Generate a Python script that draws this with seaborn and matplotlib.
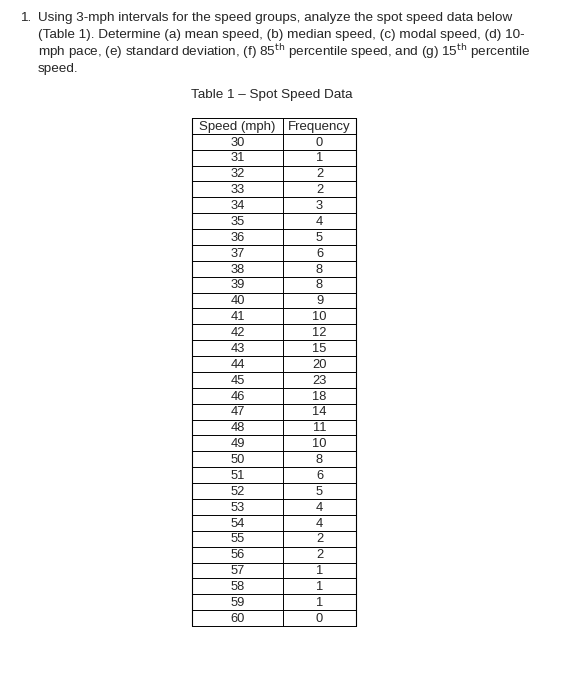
import matplotlib
matplotlib.use("Agg")
import matplotlib.pyplot as plt
import seaborn as sns

sns.set_theme(style="white")
plt.rcParams['font.family'] = ['Liberation Sans', 'DejaVu Sans']

speeds = list(range(30, 61))
freqs = [0, 1, 2, 2, 3, 4, 5, 6, 8, 8, 9, 10, 12, 15, 20, 23, 18, 14, 11, 10,
         8, 6, 5, 4, 4, 2, 2, 1, 1, 1, 0]
headers = ["Speed (mph)", "Frequency"]

fig = plt.figure(figsize=(5.68, 7.0), dpi=100)
W, H = 568, 700
fs = 9.7
lines = [
    "Using 3-mph intervals for the speed groups, analyze the spot speed data below",
    "(Table 1). Determine (a) mean speed, (b) median speed, (c) modal speed, (d) 10-",
    "mph pace, (e) standard deviation, (f) 85$^{\\mathrm{th}}$ percentile speed, and (g) 15$^{\\mathrm{th}}$ percentile",
    "speed.",
]
fig.text(20 / W, 1 - 18 / H, "1.", fontsize=fs, va="center", ha="left")
for i, l in enumerate(lines):
    fig.text(38 / W, 1 - (18 + 17 * i) / H, l, fontsize=fs, va="center", ha="left")
fig.text(272 / W, 1 - 95 / H, "Table 1 \u2013 Spot Speed Data", fontsize=fs, va="center", ha="center")

top, bot, left, right, div = 118, 626, 192, 356, 283
ax = fig.add_axes([left / W, 1 - bot / H, (right - left) / W, (bot - top) / H])
n = len(speeds) + 1
ax.set_xlim(0, 1)
ax.set_ylim(n, 0)
ax.axis("off")
d = (div - left) / (right - left)
for i in range(n + 1):
    ax.plot([0, 1], [i, i], color="black", lw=0.7, clip_on=False)
ax.plot([0, 0], [0, n], color="black", lw=0.8, clip_on=False)
ax.plot([1, 1], [0, n], color="black", lw=0.8, clip_on=False)
ax.plot([d, d], [0, n], color="black", lw=0.7, clip_on=False)
ax.text(d / 2, 0.55, headers[0], ha="center", va="center", fontsize=9.5)
ax.text((d + 1) / 2, 0.55, headers[1], ha="center", va="center", fontsize=9.5)
for i, (s, f) in enumerate(zip(speeds, freqs)):
    ax.text(d / 2, i + 1.55, str(s), ha="center", va="center", fontsize=9.3)
    ax.text((d + 1) / 2, i + 1.55, str(f), ha="center", va="center", fontsize=9.3)

fig.savefig("out.png", dpi=100, facecolor="white")
